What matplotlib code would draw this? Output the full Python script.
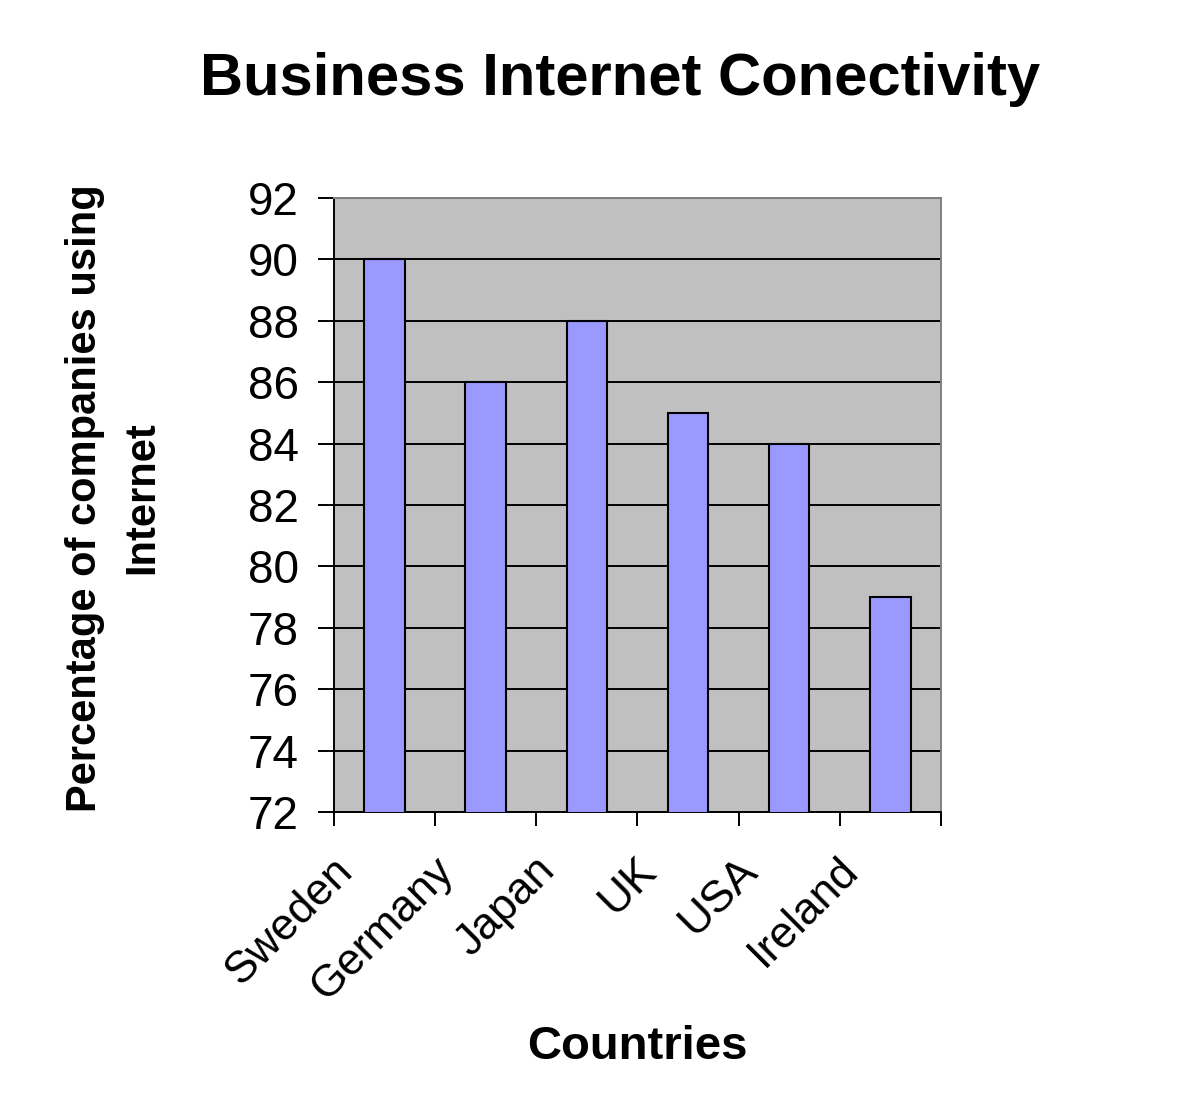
import matplotlib.pyplot as plt
from matplotlib.transforms import blended_transform_factory

countries = ['Sweden', 'Germany', 'Japan', 'UK', 'USA', 'Ireland']
percent = [90, 86, 88, 85, 84, 79]
y_ticks = [72, 74, 76, 78, 80, 82, 84, 86, 88, 90, 92]

plt.rcParams['font.family'] = ['Liberation Sans', 'DejaVu Sans']

fig = plt.figure(figsize=(12, 10.94), dpi=100)
ax = fig.add_axes([0.2783, 0.2578, 0.5058, 0.5612])
ax.set_facecolor('#C0C0C0')

x = list(range(len(countries)))
ax.bar(x, percent, width=0.4, color='#9999FF', edgecolor='black',
       linewidth=1.5, zorder=3)

ax.set_ylim(72, 92)
ax.set_xlim(-0.5, len(countries) - 0.5)
ax.set_yticks(y_ticks)
ax.yaxis.grid(True, color='black', linewidth=1.4, zorder=1)
ax.set_axisbelow(True)
ax.tick_params(axis='y', direction='out', length=11.5, width=1.4,
               labelsize=33, pad=14)

# category boundary ticks, labels drawn separately (rotated like Excel)
ax.set_xticks([i - 0.5 for i in range(len(countries) + 1)])
ax.set_xticklabels([])
ax.tick_params(axis='x', direction='out', length=10, width=1.4)

trans = blended_transform_factory(ax.transData, ax.transAxes)
for i, name in enumerate(countries):
    ax.text(i - 0.38, -0.085, name, transform=trans, rotation=45,
            rotation_mode='anchor', ha='right', va='center', fontsize=32)

for side in ['left', 'bottom']:
    ax.spines[side].set_linewidth(1.4)
    ax.spines[side].set_color('black')
for side in ['top', 'right']:
    ax.spines[side].set_linewidth(1.4)
    ax.spines[side].set_color('#808080')

fig.text(0.517, 0.927, 'Business Internet Conectivity', ha='center',
         va='center', fontsize=43, fontweight='bold')
fig.text(0.531, 0.043, 'Countries', ha='center', va='center',
         fontsize=34, fontweight='bold')
fig.text(0.095, 0.545, 'Percentage of companies using\nInternet',
         ha='center', va='center', rotation=90, fontsize=30,
         fontweight='bold', multialignment='center', linespacing=1.55)

plt.savefig('out.png')
plt.close()
